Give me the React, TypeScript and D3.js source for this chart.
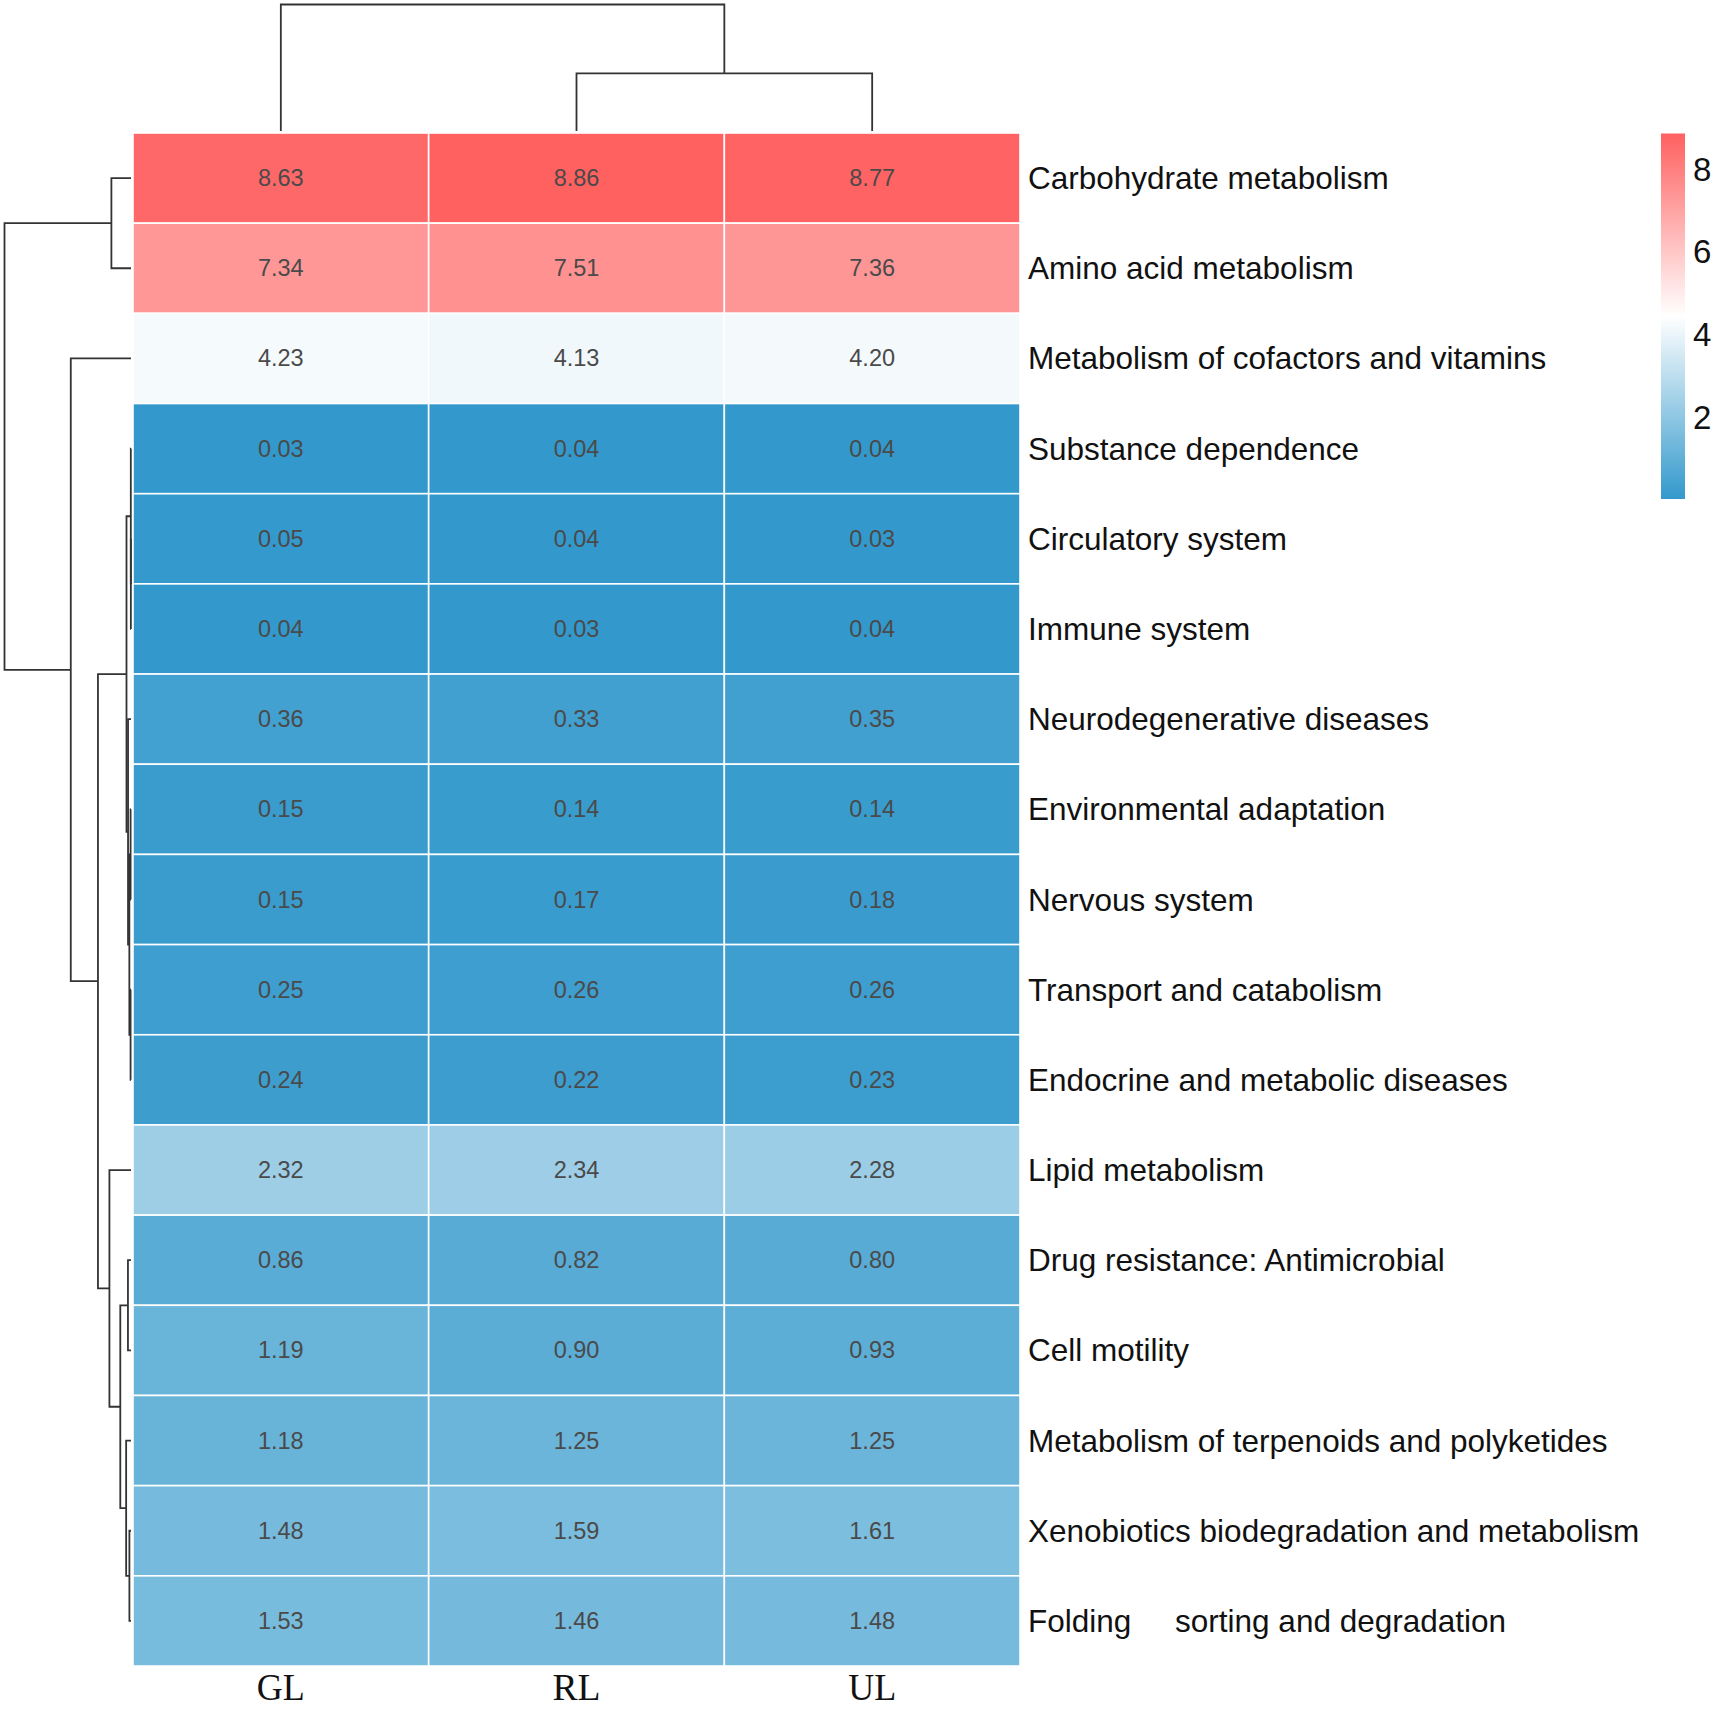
import React from "react";
import * as d3 from "d3";

const rowNames = [
  "Carbohydrate metabolism",
  "Amino acid metabolism",
  "Metabolism of cofactors and vitamins",
  "Substance dependence",
  "Circulatory system",
  "Immune system",
  "Neurodegenerative diseases",
  "Environmental adaptation",
  "Nervous system",
  "Transport and catabolism",
  "Endocrine and metabolic diseases",
  "Lipid metabolism",
  "Drug resistance: Antimicrobial",
  "Cell motility",
  "Metabolism of terpenoids and polyketides",
  "Xenobiotics biodegradation and metabolism",
  "Folding     sorting and degradation",
];

const colNames = ["GL", "RL", "UL"];

const valuesGL = [8.63, 7.34, 4.23, 0.03, 0.05, 0.04, 0.36, 0.15, 0.15, 0.25, 0.24, 2.32, 0.86, 1.19, 1.18, 1.48, 1.53];
const valuesRL = [8.86, 7.51, 4.13, 0.04, 0.04, 0.03, 0.33, 0.14, 0.17, 0.26, 0.22, 2.34, 0.82, 0.9, 1.25, 1.59, 1.46];
const valuesUL = [8.77, 7.36, 4.2, 0.04, 0.03, 0.04, 0.35, 0.14, 0.18, 0.26, 0.23, 2.28, 0.8, 0.93, 1.25, 1.61, 1.48];

// dendrogram topologies (leaf indices); merge heights computed by complete linkage
const rowTree: any = [[0, 1], [2, [[[3, [4, 5]], [6, [[7, 8], [9, 10]]]], [11, [[12, 13], [14, [15, 16]]]]]]];
const colTree: any = [0, [1, 2]];

const legendTicks = [2, 4, 6, 8];

const LOW = "#3399CC";
const MID = "#FFFFFF";
const HIGH = "#FF6060";

type Node = { leaves: number[]; pos: number; h: number; kids?: Node[] };

function build(t: any, posOf: (i: number) => number, dist: (a: number, b: number) => number): Node {
  if (typeof t === "number") return { leaves: [t], pos: posOf(t), h: 0 };
  const a = build(t[0], posOf, dist);
  const b = build(t[1], posOf, dist);
  let h = 0;
  for (const i of a.leaves) for (const j of b.leaves) h = Math.max(h, dist(i, j));
  return { leaves: [...a.leaves, ...b.leaves], pos: (a.pos + b.pos) / 2, h, kids: [a, b] };
}

function collect(n: Node, out: Node[] = []): Node[] {
  if (n.kids) {
    out.push(n);
    n.kids.forEach((k) => collect(k, out));
  }
  return out;
}

export default function App() {
  const W = 1716;
  const H = 1710;
  const x0 = 133, x1 = 1020, y0 = 133, y1 = 1666;
  const matrix = rowNames.map((_, i) => [valuesGL[i], valuesRL[i], valuesUL[i]]);
  const all = matrix.flat();
  const vmin = d3.min(all)!;
  const vmax = d3.max(all)!;
  const vmid = (vmin + vmax) / 2;
  const color = d3.scaleLinear<string>().domain([vmin, vmid, vmax]).range([LOW, MID, HIGH]).interpolate(d3.interpolateRgb);

  const xBand = d3.scaleBand<number>().domain(d3.range(colNames.length)).range([x0, x1]);
  const yBand = d3.scaleBand<number>().domain(d3.range(rowNames.length)).range([y0, y1]);

  const rowDist = (a: number, b: number) => Math.sqrt(d3.sum(matrix[a].map((v, k) => (v - matrix[b][k]) ** 2)));
  const colDist = (a: number, b: number) => Math.sqrt(d3.sum(matrix.map((r) => (r[a] - r[b]) ** 2)));

  const rRoot = build(rowTree, (i) => yBand(i)! + yBand.bandwidth() / 2, rowDist);
  const cRoot = build(colTree, (i) => xBand(i)! + xBand.bandwidth() / 2, colDist);

  const rh = d3.scaleLinear().domain([0, rRoot.h]).range([131, 4.5]);
  const ch = d3.scaleLinear().domain([0, cRoot.h]).range([131, 4.5]);

  const rowPaths = collect(rRoot).map((n) => {
    const [a, b] = n.kids!;
    const p = d3.path();
    p.moveTo(rh(a.h), a.pos);
    p.lineTo(rh(n.h), a.pos);
    p.lineTo(rh(n.h), b.pos);
    p.lineTo(rh(b.h), b.pos);
    return p.toString();
  });
  const colPaths = collect(cRoot).map((n) => {
    const [a, b] = n.kids!;
    const p = d3.path();
    p.moveTo(a.pos, ch(a.h));
    p.lineTo(a.pos, ch(n.h));
    p.lineTo(b.pos, ch(n.h));
    p.lineTo(b.pos, ch(b.h));
    return p.toString();
  });

  const legY = d3.scaleLinear().domain([vmin, vmax]).range([499, 133.5]);
  const lx = 1661, lw = 24;

  const sans = "'Liberation Sans', Arial, Helvetica, sans-serif";
  const serif = "'Liberation Serif', 'Times New Roman', serif";

  return (
    <svg width={W} height={H} style={{ position: "absolute", left: 0, top: 0, background: "#fff" }}>
      <defs>
        <linearGradient id="lg" x1="0" y1="1" x2="0" y2="0">
          <stop offset="0%" stopColor={LOW} />
          <stop offset="50%" stopColor={MID} />
          <stop offset="100%" stopColor={HIGH} />
        </linearGradient>
      </defs>
      <rect x={0} y={0} width={W} height={H} fill="#fff" />
      {matrix.map((row, i) =>
        row.map((v, j) => (
          <g key={`${i}-${j}`}>
            <rect
              x={xBand(j)!}
              y={yBand(i)!}
              width={xBand.bandwidth()}
              height={yBand.bandwidth()}
              fill={color(v)}
              stroke="#ffffff"
              strokeWidth={1.6}
            />
            <text
              x={xBand(j)! + xBand.bandwidth() / 2}
              y={yBand(i)! + yBand.bandwidth() / 2}
              textAnchor="middle"
              dominantBaseline="central"
              fontFamily={sans}
              fontSize={23.5}
              fill="#4a4a4a"
            >
              {v.toFixed(2)}
            </text>
          </g>
        ))
      )}
      {rowNames.map((n, i) => (
        <text
          key={n}
          x={1028}
          y={yBand(i)! + yBand.bandwidth() / 2}
          dominantBaseline="central"
          fontFamily={sans}
          fontSize={31.5}
          fill="#111"
          style={{ whiteSpace: "pre" }}
        >
          {n}
        </text>
      ))}
      {colNames.map((n, j) => (
        <text
          key={n}
          x={xBand(j)! + xBand.bandwidth() / 2}
          y={1700}
          textAnchor="middle"
          fontFamily={serif}
          fontSize={38}
          fill="#111"
          textLength={48}
          lengthAdjust="spacingAndGlyphs"
        >
          {n}
        </text>
      ))}
      {rowPaths.map((d, i) => (
        <path key={"r" + i} d={d} fill="none" stroke="#333" strokeWidth={1.8} />
      ))}
      {colPaths.map((d, i) => (
        <path key={"c" + i} d={d} fill="none" stroke="#333" strokeWidth={1.8} />
      ))}
      <rect x={lx} y={legY(vmax)} width={lw} height={legY(vmin) - legY(vmax)} fill="url(#lg)" />
      {legendTicks.map((t) => (
        <text key={t} x={1693} y={legY(t)} dominantBaseline="central" fontFamily={sans} fontSize={33} fill="#111">
          {t}
        </text>
      ))}
    </svg>
  );
}
